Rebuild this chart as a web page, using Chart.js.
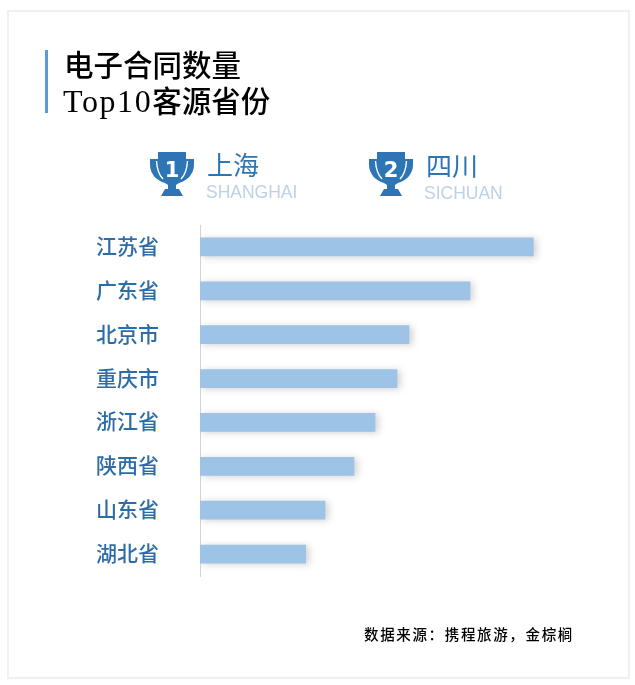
<!DOCTYPE html>
<html lang="zh">
<head>
<meta charset="utf-8">
<title>电子合同数量Top10客源省份</title>
<script src="https://cdn.jsdelivr.net/npm/chart.js@4/dist/chart.umd.min.js"></script>
<style>
  html, body { margin: 0; padding: 0; background: #fff; }
  #page { position: relative; width: 635px; height: 685px; overflow: hidden;
          font-family: "Noto Sans CJK SC", "Noto Sans", sans-serif; }
  #frame { position: absolute; left: 7px; top: 10px; width: 619px; height: 665px;
           border: 2px solid #f0f0f0; }
  #chart { position: absolute; left: 0; top: 0; }
  .abs { position: absolute; white-space: nowrap; }
  #accent { left: 45px; top: 50px; width: 3px; height: 63px; background: #5b9bd5; }
  .title { color: #000; font-size: 29.5px; line-height: 34px; font-weight: 500; }
  .latin { font-family: "Liberation Serif", serif; font-size: 32px; letter-spacing: 1.6px; }
  .city { color: #2e75b6; font-size: 26px; line-height: 30px; font-weight: 400; }
  .pinyin { color: #bdd1e7; font-size: 17.5px; line-height: 20px; font-family: "Liberation Sans", sans-serif; }
  #source { left: 364px; top: 623px; color: #000; font-size: 14.5px; line-height: 22px;
            font-weight: 500; letter-spacing: 1.65px; }
  svg.cup { position: absolute; width: 44px; height: 44px; }
  svg.cup text { font-family: "DejaVu Sans", sans-serif; font-size: 21px; font-weight: 700; fill: #fff; }
</style>
</head>
<body>
<div id="page">
  <div id="frame"></div>
  <canvas id="chart" width="635" height="685"></canvas>

  <div class="abs" id="accent"></div>
  <div class="abs title" style="left:64px;top:46px;">电子合同数量</div>
  <div class="abs title" style="left:63px;top:82px;"><span class="latin">Top10</span>客源省份</div>

  <svg class="cup" style="left:150px;top:152px;" viewBox="0 0 44 44" aria-hidden="true">
    <use href="#cupShape"></use>
    <text x="22" y="25" text-anchor="middle">1</text>
  </svg>
  <div class="abs city" style="left:207px;top:149px;">上海</div>
  <div class="abs pinyin" style="left:206px;top:182px;">SHANGHAI</div>

  <svg class="cup" style="left:369px;top:152px;" viewBox="0 0 44 44" aria-hidden="true">
    <use href="#cupShape"></use>
    <text x="22" y="25" text-anchor="middle">2</text>
  </svg>
  <div class="abs city" style="left:426px;top:150px;">四川</div>
  <div class="abs pinyin" style="left:424px;top:183px;">SICHUAN</div>

  <div class="abs" id="source">数据来源：携程旅游，金棕榈</div>

  <svg width="0" height="0" style="position:absolute">
    <defs>
      <g id="cupShape">
        <!-- trophy silhouette: bowl, handles, stem and base -->
        <path fill="#2e75b6" d="M8 0H36V7H44V13C44 22 37 29 29 31L26 33V37H29L33 44H11L15 37H18V33L15 31C7 29 0 22 0 13V7H8Z"/>
        <!-- thin gaps between the bowl and its handles -->
        <path fill="none" stroke="#fff" stroke-width="1.4" d="M6.5 9C7 17 9 23 13 27"/>
        <path fill="none" stroke="#fff" stroke-width="1.4" d="M37.5 9C37 17 35 23 31 27"/>
      </g>
    </defs>
  </svg>
</div>

<script>
  // Provinces ranked by number of e-contracts (values are an index, largest = 100)
  const provinces = ["江苏省", "广东省", "北京市", "重庆市", "浙江省", "陕西省", "山东省", "湖北省"];
  const contractIndex = [100, 81, 62.7, 59.1, 52.5, 46.2, 37.5, 31.7];
  const axisMax = 120;

  // Soft drop shadow behind the bars
  const barShadow = {
    id: "barShadow",
    beforeDatasetsDraw(chart) {
      const c = chart.ctx;
      c.save();
      c.shadowColor = "rgba(90,90,90,0.28)";
      c.shadowBlur = 7;
      c.shadowOffsetX = 3;
      c.shadowOffsetY = 1;
    },
    afterDatasetsDraw(chart) {
      chart.ctx.restore();
    }
  };

  new Chart(document.getElementById("chart"), {
    type: "bar",
    data: {
      labels: provinces,
      datasets: [{
        data: contractIndex,
        backgroundColor: "#9dc3e6",
        borderWidth: 0,
        barThickness: 18,
        categoryPercentage: 1,
        barPercentage: 1
      }]
    },
    plugins: [barShadow],
    options: {
      indexAxis: "y",
      responsive: false,
      animation: false,
      layout: { padding: { top: 225, bottom: 109, left: 0, right: 35 } },
      plugins: { legend: { display: false }, tooltip: { enabled: false } },
      scales: {
        x: {
          min: 0,
          max: axisMax,
          display: false
        },
        y: {
          grid: { display: false, drawTicks: false },
          border: { display: true, color: "#d4d4d4", width: 1 },
          afterFit(scale) { scale.width = 200; },
          ticks: {
            color: "#2e6ca8",
            padding: 41,
            labelOffset: -1,
            font: { family: '"Noto Sans CJK SC", sans-serif', size: 21, weight: "500" }
          }
        }
      }
    }
  });
</script>
</body>
</html>
